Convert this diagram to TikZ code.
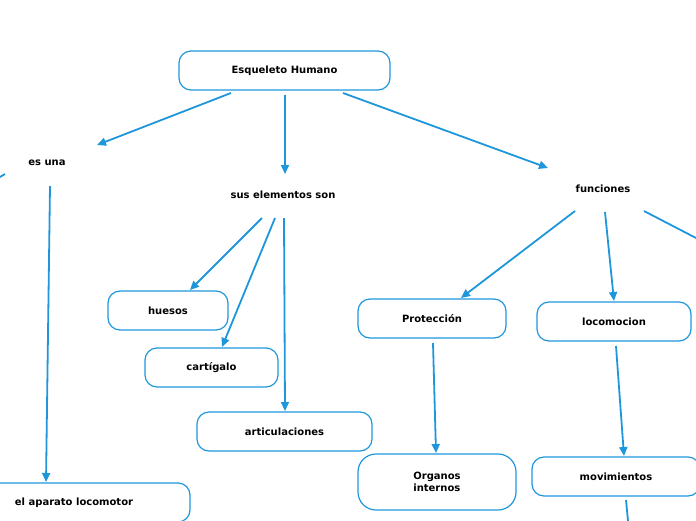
\documentclass[tikz,border=0pt]{standalone}
\usepackage{fontspec}
\setmainfont{DejaVu Sans}
\usetikzlibrary{arrows.meta}
\definecolor{bl}{HTML}{1E96DC}
\begin{document}
\begin{tikzpicture}[x=1pt,y=-1pt,
 box/.style={draw=bl,line width=1.2pt,rounded corners=12pt,minimum height=39pt,font=\bfseries\fontsize{10}{12}\selectfont,align=left,inner sep=0pt},
 lbl/.style={font=\bfseries\fontsize{10}{12}\selectfont,inner sep=0pt},
 arr/.style={bl,line width=1.8pt,-{Triangle[length=9pt,width=8pt]}},
 ln/.style={bl,line width=1.8pt}]
\useasboundingbox (0,0) rectangle (696,520);
\node[box,minimum width=211pt] (eh) at (284.5,70.5) {Esqueleto Humano};
\node[lbl] (es) at (47,163) {es una};
\node[lbl] (se) at (283,195) {sus elementos son};
\node[lbl] (fu) at (603,189) {funciones};
\node[box,minimum width=120pt] (hu) at (168,310.5) {huesos};
\node[box,minimum width=133pt] (ca) at (211.5,367.5) {cartígalo};
\node[box,minimum width=175pt] (ar) at (284.5,431.5) {articulaciones};
\node[box,minimum width=148pt] (pr) at (432,318.5) {Protección};
\node[box,minimum width=154pt] (lo) at (614,321.5) {locomocion};
\node[box,minimum width=158pt,minimum height=56pt,rounded corners=18pt] (oi) at (437,482) {Organos\\internos};
\node[box,minimum width=168pt] (mo) at (616,476.5) {movimientos};
\node[box,minimum width=232pt] (al) at (74,502.5) {el aparato locomotor};
\coordinate (f1) at (696,238);
\coordinate (f2) at (628,521);
\coordinate (f3) at (0,177);
\coordinate (f4) at (5,174);
\draw[arr] (231,93) -- (97,145);
\draw[arr] (285,95) -- (285,174);
\draw[arr] (343,93) -- (548,168);
\draw[arr] (50,186) -- (46,482);
\draw[arr] (262,218) -- (190,290);
\draw[arr] (275,218) -- (222,347);
\draw[arr] (284,218) -- (285,411);
\draw[arr] (575,211) -- (461,298);
\draw[arr] (605,212) -- (614,301);
\draw[ln] (644,211) -- (f1);
\draw[arr] (433,343) -- (436,453);
\draw[arr] (616,346) -- (624,456);
\draw[ln] (626,500) -- (f2);
\draw[ln] (f4) -- (f3);
\end{tikzpicture}
\end{document}
